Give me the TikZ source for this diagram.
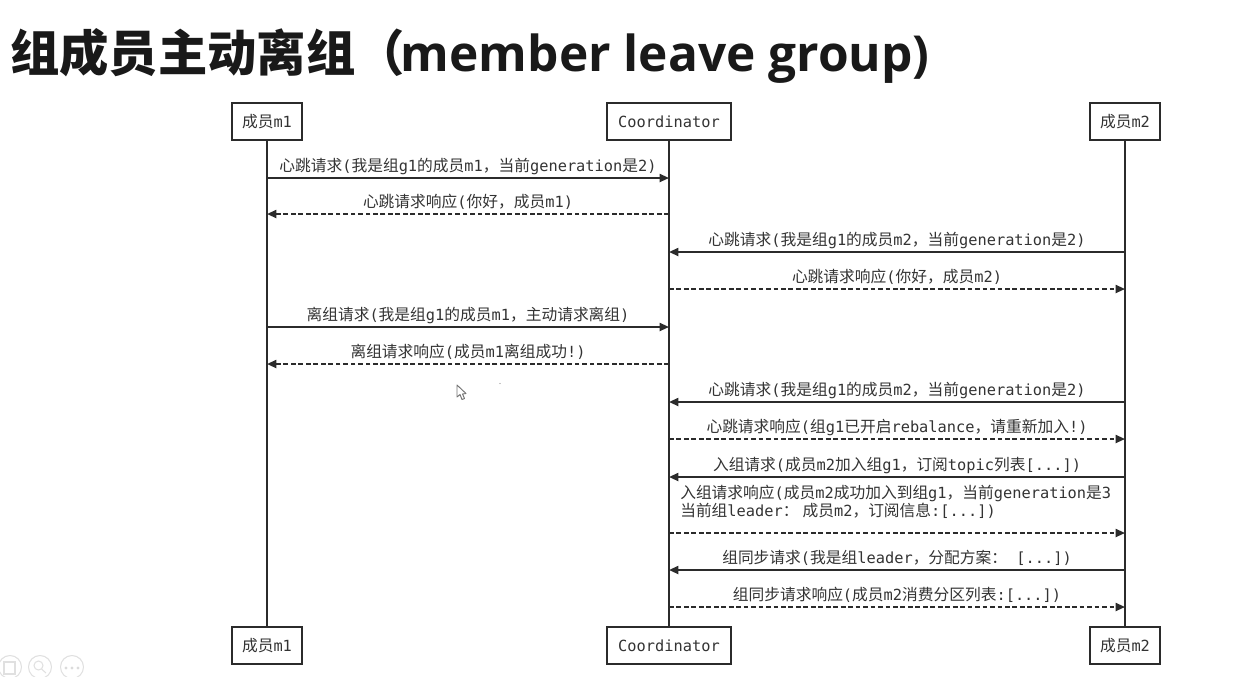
\documentclass[tikz,border=0pt]{standalone}
\usepackage{fontspec}
\usetikzlibrary{arrows.meta,calc}
\setmainfont{DejaVu Sans Mono}
\newfontfamily\cjk{Noto Sans CJK SC}
\newfontfamily\latb{Open Sans}
\newcommand{\C}[1]{{\cjk\fontsize{11.8pt}{14pt}\selectfont #1}}
\definecolor{ink}{HTML}{2B2B2B}
\definecolor{txt}{HTML}{333333}
\tikzset{
  actor/.style={draw=ink,line width=1.5pt,fill=white,minimum height=28pt,inner sep=0pt,text=txt,font=\fontsize{11.5pt}{14pt}\selectfont},
  life/.style={draw=ink,line width=1.6pt},
  sync/.style={draw=ink,line width=1.4pt,-{Triangle[length=7pt,width=6pt]}},
  reply/.style={sync,dash pattern=on 3.6pt off 2pt},
  lab/.style={text=txt,inner sep=0pt,font=\fontsize{11.5pt}{14pt}\selectfont},
  faint/.style={draw=black!12,line width=0.8pt}
}
\newcommand{\msg}[5]{%
  \coordinate (f#1) at (#2 |- 0,#1);
  \coordinate (t#1) at (#3 |- 0,#1);
  \draw[#4] (f#1) -- (t#1);
  \node[lab,anchor=base] (l#1) at ($(f#1)!0.5!(t#1)+(0,-7)$) {#5};}
\begin{document}
\begin{tikzpicture}[x=0.75pt,y=-0.75pt]
\useasboundingbox (0,0) rectangle (1249,676);
\node[anchor=base west,inner sep=0pt,text=black!90] (title) at (10,71)
  {\bfseries{\cjk\fontsize{37pt}{40pt}\selectfont 组成员主动离组（}\hspace{-3pt}{\latb\fontsize{37.2pt}{40pt}\selectfont member leave group)}};
% actors
\node[actor,minimum width=53pt] (m1t) at (267,121.5) {\C{成员}m1};
\node[actor,minimum width=92.5pt] (ct) at (669,121.5) {Coordinator};
\node[actor,minimum width=53pt] (m2t) at (1125,121.5) {\C{成员}m2};
\node[actor,minimum width=53pt] (m1b) at (267,645.5) {\C{成员}m1};
\node[actor,minimum width=92.5pt] (cb) at (669,645.5) {Coordinator};
\node[actor,minimum width=53pt] (m2b) at (1125,645.5) {\C{成员}m2};
\draw[life] (m1t) -- (m1b);
\draw[life] (ct) -- (cb);
\draw[life] (m2t) -- (m2b);
% messages
\msg{178}{m1t}{ct}{sync}{\C{心跳请求}(\C{我是组}g1\C{的成员}m1\C{，当前}generation\C{是}2)}
\msg{214}{ct}{m1t}{reply}{\C{心跳请求响应}(\C{你好，成员}m1)}
\msg{252}{m2t}{ct}{sync}{\C{心跳请求}(\C{我是组}g1\C{的成员}m2\C{，当前}generation\C{是}2)}
\msg{289}{ct}{m2t}{reply}{\C{心跳请求响应}(\C{你好，成员}m2)}
\msg{327}{m1t}{ct}{sync}{\C{离组请求}(\C{我是组}g1\C{的成员}m1\C{，主动请求离组})}
\msg{364}{ct}{m1t}{reply}{\C{离组请求响应}(\C{成员}m1\C{离组成功}!)}
\msg{402}{m2t}{ct}{sync}{\C{心跳请求}(\C{我是组}g1\C{的成员}m2\C{，当前}generation\C{是}2)}
\msg{439}{ct}{m2t}{reply}{\C{心跳请求响应}(\C{组}g1\C{已开启}rebalance\C{，请重新加入}!)}
\msg{477}{m2t}{ct}{sync}{\C{入组请求}(\C{成员}m2\C{加入组}g1\C{，订阅}topic\C{列表}[...])}
\coordinate (f533) at (ct |- 0,533);
\coordinate (t533) at (m2t |- 0,533);
\draw[reply] (f533) -- (t533);
\node[lab,anchor=base west] (l533a) at (680,498) {\C{入组请求响应}(\C{成员}m2\C{成功加入到组}g1\C{，当前}generation\C{是}3};
\node[lab,anchor=base west] (l533b) at (680,516) {\C{当前组}leader\C{：}\hspace{3pt}\C{成员}m2\C{，订阅信息}:[...])};
\msg{570}{m2t}{ct}{sync}{\C{组同步请求}(\C{我是组}leader\C{，分配方案：}\hspace{6.9pt}[...])}
\msg{607}{ct}{m2t}{reply}{\C{组同步请求响应}(\C{成员}m2\C{消费分区列表}:[...])}
% mouse cursor and speck
\draw[draw=black!55,fill=white,line width=0.7pt,line join=round]
  (457,385) -- (457,397) -- (460,394.5) -- (462,399.5) -- (464.5,398.5) -- (462.5,394) -- (466,393.5) -- cycle;
\fill[black!45] (500,383.5) circle (0.6);
% faint player controls
\draw[faint] (10,667) circle (11.5);
\draw[faint] (40,667) circle (11.5);
\draw[faint] (72,667) circle (11.5);
\draw[faint] (4,662) rectangle (15,674);
\draw[faint] (38.5,665.5) circle (4.5) (41.5,669) -- (46,673);
\fill[black!14] (66,668) circle (1.6) (72,668) circle (1.6) (78,668) circle (1.6);
\end{tikzpicture}
\end{document}
